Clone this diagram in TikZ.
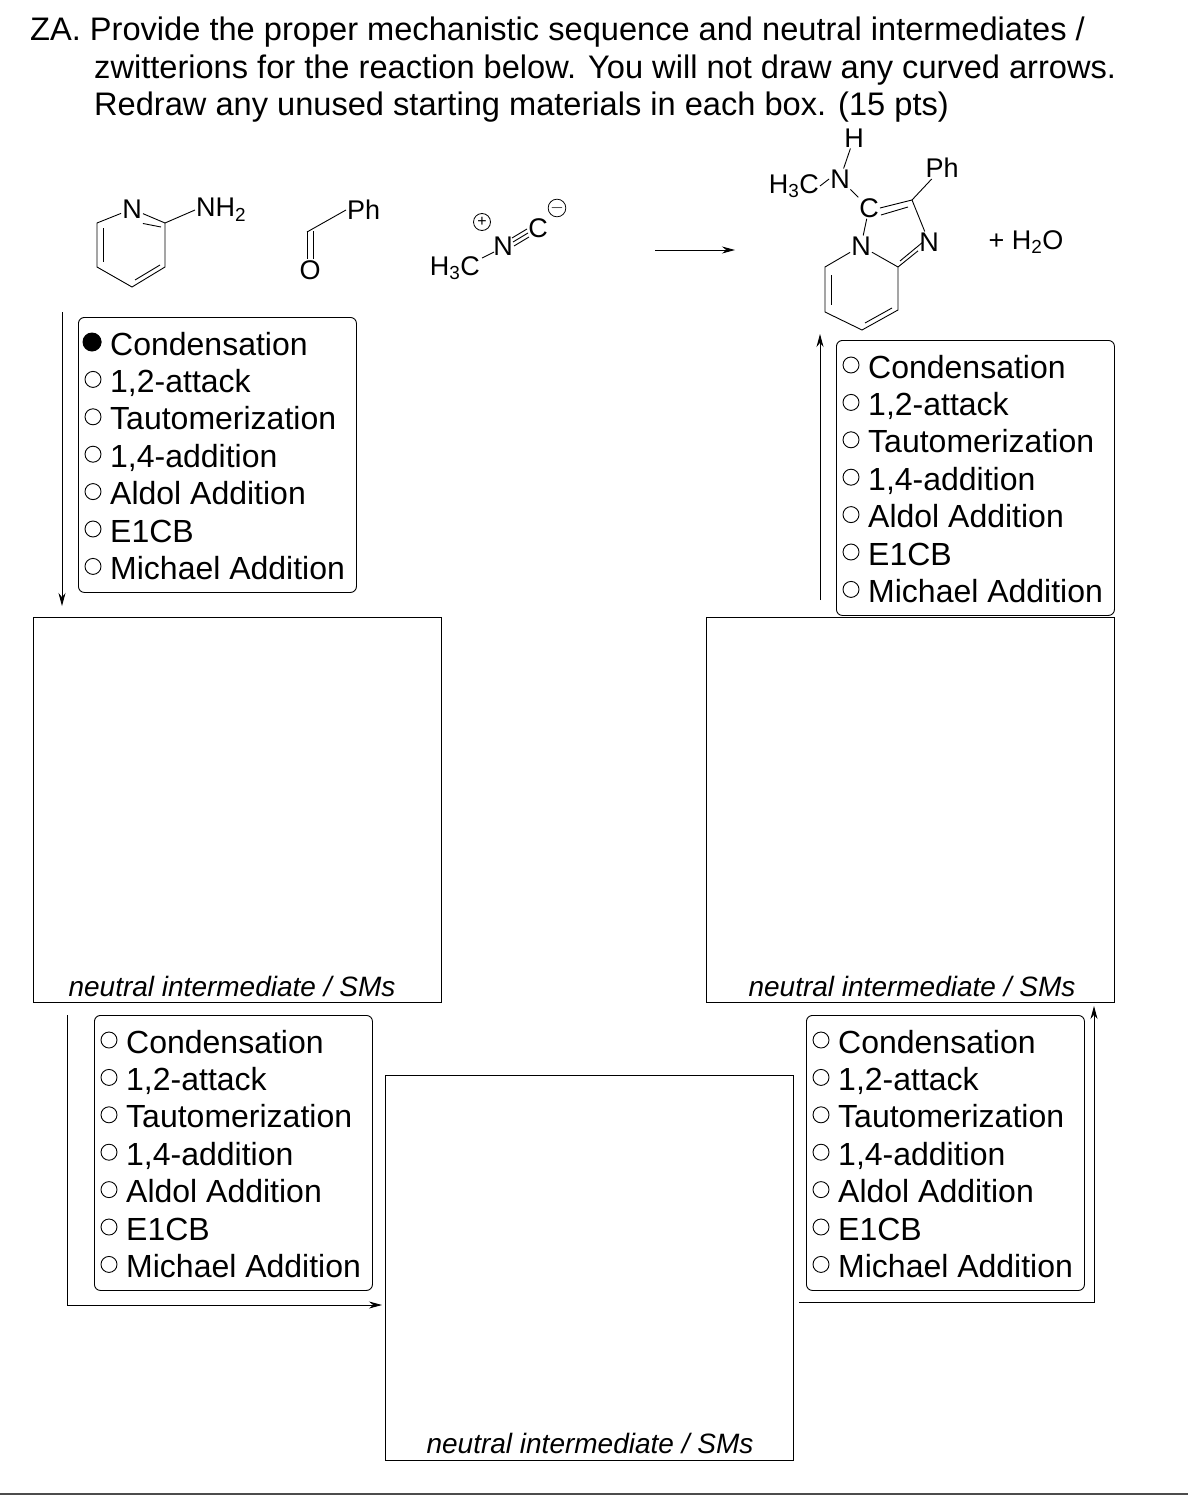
\documentclass[tikz,border=0pt]{standalone}
\usepackage{fontspec}
\setmainfont{Liberation Sans}
\usetikzlibrary{arrows.meta,calc}
\begin{document}
\begin{tikzpicture}[x=1pt,y=-1pt,
  opt/.style={font=\fontsize{32}{32}\selectfont,anchor=base west,inner sep=0pt},
  obox/.style={draw,rounded corners=6pt,line width=0.9pt,anchor=north west,minimum width=278pt,minimum height=275pt,inner sep=0pt},
  ibox/.style={draw,line width=0.9pt,anchor=north west,minimum width=408pt,minimum height=385pt,inner sep=0pt},
  lab/.style={font=\fontsize{28}{28}\selectfont\itshape,inner sep=0pt,anchor=base},
  atm/.style={font=\fontsize{27}{27}\selectfont,inner sep=1pt},
  bd/.style={line width=0.9pt},
  flow/.style={line width=0.9pt,-{Stealth[length=13pt,width=7pt]}},
  ttl/.style={font=\fontsize{32.6}{32.6}\selectfont,anchor=base west,inner sep=0pt}]
\useasboundingbox (0,0) rectangle (1188,1496);
\fill[white] (0,0) rectangle (1188,1496);
\newcommand\optbox[4]{%
  \node[obox] (#1) at (#2,#3) {};
  \foreach \t [count=\i from 0] in {Condensation,{1,2-attack},Tautomerization,{1,4-addition},Aldol Addition,E1CB,Michael Addition}{
    \node[opt] (#1t\i) at (#2+32,#3+38+37.4*\i) {\t};
    \draw[line width=0.9pt] (#2+15,#3+25+37.4*\i) circle (8pt);
  }
  \ifnum#4=1 \fill (#2+14,#3+25) circle (9.5pt);\fi
}
% title
\node[ttl] (t1) at (30,41) {ZA. Provide the proper mechanistic sequence and neutral intermediates /};
\node[ttl] (t2) at (94,78) {zwitterions for the reaction below. You will not draw any curved arrows.};
\node[ttl] (t3) at (94,115) {Redraw any unused starting materials in each box. (15 pts)};
% 2-aminopyridine
\node[atm] (pN) at (132,209) {N};
\node[atm,anchor=west] (pNH) at (195,210) {NH\textsubscript{2}};
\coordinate (p2) at (165,223); \coordinate (p3) at (165,267); \coordinate (p4) at (132,287);
\coordinate (p5) at (97,267); \coordinate (p6) at (97,223);
\draw[bd] (pN) -- (p6) -- (p5) -- (p4) -- (p3) -- (p2) -- (pN);
\draw[bd] ($(pN.south east)+(0,4)$) -- ($(p2)+(-4,4)$);
\draw[bd] (p2) -- (pNH.west);
\draw[bd] (103,228) -- (103,262);
\draw[bd] (135,280) -- (160,265);
% aldehyde
\node[atm] (aO) at (310,270) {O};
\node[atm,anchor=west] (aPh) at (346,210) {Ph};
\coordinate (aC) at (310,232);
\draw[bd] ($(aO.north)+(-3,0)$) -- ++(0,-28);
\draw[bd] ($(aO.north)+(3,0)$) -- ++(0,-28);
\draw[bd] ($(aC)+(-3,0)$) -- (aPh.west);
% isocyanide
\node[atm,anchor=east] (iH) at (481,268) {H\textsubscript{3}C};
\node[atm] (iN) at (503,246) {N};
\node[atm] (iC) at (538,228) {C};
\node[inner sep=0pt,draw,circle,line width=0.8pt,minimum size=17pt,font=\fontsize{16}{16}\selectfont] (ip) at (482,222) {+};
\node[inner sep=0pt,draw,circle,line width=0.8pt,minimum size=17pt,font=\fontsize{16}{16}\selectfont] (im) at (557,208) {$-$};
\draw[bd] (482,258) -- (494,252);
\draw[bd] (512,238) -- (527,229);
\draw[bd] (513,242) -- (528,233);
\draw[bd] (514,246) -- (529,237);
% reaction arrow
\coordinate (ra) at (655,250); \coordinate (rb) at (735,250);
\draw[flow] (ra) -- (rb);
% product
\node[atm] (qH) at (854,138) {H};
\node[atm] (qN) at (840,179) {N};
\node[atm,anchor=east] (qMe) at (820,186) {H\textsubscript{3}C};
\node[atm] (qC) at (869,208) {C};
\node[atm] (qPh) at (942,168) {Ph};
\coordinate (qC2) at (912,200);
\node[atm] (qNr) at (929,242) {N};
\node[atm] (qNb) at (861,246) {N};
\node[atm] (qW) at (1026,242) {+ H\textsubscript{2}O};
\coordinate (q1) at (825,267); \coordinate (q2) at (825,312); \coordinate (q3) at (862,330);
\coordinate (q4) at (898,310); \coordinate (q5) at (898,267);
\draw[bd] (qH) -- (qN);
\draw[bd] (qMe.east) -- (qN.west);
\draw[bd] (qN) -- (qC);
\draw[bd] (qC) -- (qNb);
\draw[bd] (qC.east) -- (qC2);
\draw[bd] ($(qC.east)+(1,7)$) -- ($(qC2)+(-4,7)$);
\draw[bd] (qC2) -- (qPh);
\draw[bd] (qC2) -- (qNr);
\draw[bd] (qNb) -- (q1) -- (q2) -- (q3) -- (q4) -- (q5) -- (qNb);
\draw[bd] (q5) -- (qNr);
\draw[bd] ($(q5)+(2,-6)$) -- ($(qNr)+(-6,0)$);
\draw[bd] (831,275) -- (831,305);
\draw[bd] (865,323) -- (892,308);
% option boxes
\optbox{o1}{78}{317}{1}
\optbox{o2}{94}{1015}{0}
\optbox{o3}{806}{1015}{0}
\optbox{o4}{836}{340}{0}
% intermediate boxes
\node[ibox] (bA) at (33,617) {};
\node[lab] (lA) at (232,996) {neutral intermediate / SMs};
\node[ibox] (bB) at (385,1075) {};
\node[lab] (lB) at (590,1453) {neutral intermediate / SMs};
\node[ibox] (bC) at (706,617) {};
\node[lab] (lC) at (912,996) {neutral intermediate / SMs};
% flow arrows
\coordinate (a1s) at (62,312); \coordinate (a1e) at (62,606);
\draw[flow] (a1s) -- (a1e);
\coordinate (a2s) at (67,1015); \coordinate (a2m) at (67,1305); \coordinate (a2e) at (382,1305);
\draw[flow] (a2s) -- (a2m) -- (a2e);
\coordinate (a3s) at (799,1302); \coordinate (a3m) at (1094,1302); \coordinate (a3e) at (1094,1006);
\draw[flow] (a3s) -- (a3m) -- (a3e);
\coordinate (a4s) at (820,600); \coordinate (a4e) at (820,334);
\draw[flow] (a4s) -- (a4e);
% bottom rule
\draw[line width=2pt,black!70] (0,1494) -- (1188,1494);
\end{tikzpicture}
\end{document}
